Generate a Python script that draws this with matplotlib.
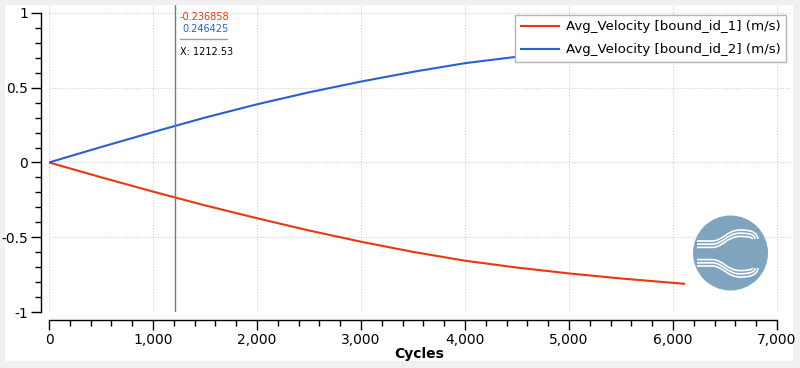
#!/usr/bin/env python3
import matplotlib
matplotlib.use('Agg')
import matplotlib.pyplot as plt
from matplotlib.patches import Circle, Rectangle, PathPatch
from matplotlib.path import Path
from matplotlib.ticker import MultipleLocator, FuncFormatter

# values
cycles = [0, 500, 1000, 1500, 2000, 2500, 3000, 3500, 4000, 4500, 5000, 5500, 6000, 6106]
vel_1 = [0, -0.099, -0.195, -0.287, -0.373, -0.455, -0.530, -0.598, -0.657, -0.703,
         -0.742, -0.776, -0.805, -0.811]
vel_2 = [0, 0.103, 0.203, 0.300, 0.389, 0.469, 0.541, 0.606, 0.664, 0.707,
         0.747, 0.781, 0.811, 0.817]
labels = ["Avg_Velocity [bound_id_1] (m/s)", "Avg_Velocity [bound_id_2] (m/s)"]
cursor_x = 1212.53
cursor_vals = ["-0.236858", "0.246425"]

red = '#e8380d'
blue = '#2a5fd4'

W, H = 800, 368
fig = plt.figure(figsize=(W / 100, H / 100), dpi=100)
fig.patch.set_facecolor('#f0f0f0')
# white panel
fig.patches.append(Rectangle((5 / W, 1 - 361 / H), 788 / W, 356 / H,
                             transform=fig.transFigure, facecolor='white',
                             edgecolor='none', zorder=-10))

ax = fig.add_axes([49 / W, 1 - 312 / H, (790 - 49) / W, (312 - 5) / H])
ax.set_facecolor('none')
ax.plot(cycles, vel_1, color=red, lw=1.5, label=labels[0], zorder=3,
        solid_joinstyle='round')
ax.plot(cycles, vel_2, color=blue, lw=1.5, label=labels[1], zorder=3,
        solid_joinstyle='round')

ax.set_xlim(0, 7125)
ax.set_ylim(-1, 1.053)
for s in ['top', 'right']:
    ax.spines[s].set_visible(False)
ax.spines['left'].set_position(('outward', 6))
ax.spines['bottom'].set_position(('outward', 6))
ax.spines['left'].set_bounds(-1, 1)
ax.spines['bottom'].set_bounds(0, 7000)
ax.spines['left'].set_linewidth(1.0)
ax.spines['bottom'].set_linewidth(1.0)

ax.xaxis.set_major_locator(MultipleLocator(1000))
ax.xaxis.set_minor_locator(MultipleLocator(200))
ax.yaxis.set_major_locator(MultipleLocator(0.5))
ax.yaxis.set_minor_locator(MultipleLocator(0.1))
ax.xaxis.set_major_formatter(FuncFormatter(lambda v, p: f"{int(v):,}"))
ax.yaxis.set_major_formatter(FuncFormatter(lambda v, p: f"{v:g}"))
ax.tick_params(which='major', length=7, width=1.0, labelsize=10, pad=2)
ax.tick_params(which='minor', length=4, width=1.0)
ax.grid(True, which='major', color='#cfcfcf', linestyle=(0, (1, 1.5)), lw=0.8)

ax.set_xlabel("Cycles", fontsize=10, fontweight='bold', labelpad=0)

leg = ax.legend(loc='upper right', fontsize=9.6, fancybox=False, framealpha=1,
                edgecolor='#b4b4b4', borderpad=0.4, handlelength=2.9,
                handletextpad=0.5, labelspacing=0.75, borderaxespad=0,
                bbox_to_anchor=(786 / W, 1 - 15 / H),
                bbox_transform=fig.transFigure)
leg.get_frame().set_linewidth(1.0)
leg.set_zorder(5)

# cursor
ax.axvline(cursor_x, ymin=0, ymax=1, color='#7a7a7a', lw=1.0, zorder=4)
px = lambda x: x / W
py = lambda y: 1 - y / H
fig.text(px(180), py(17), cursor_vals[0], color=red, fontsize=7, va='center')
fig.text(px(182), py(29), cursor_vals[1], color=blue, fontsize=7, va='center')
fig.add_artist(plt.Line2D([px(180), px(227)], [py(39), py(39)],
                          transform=fig.transFigure, color='#a0a0a0', lw=1))
fig.text(px(180), py(52), "X: " + f"{cursor_x:.2f}", color='black', fontsize=7,
         va='center')

# logo
lax = fig.add_axes([690 / W, 1 - 292 / H, 80 / W, 80 / H])
lax.set_xlim(0, 80)
lax.set_ylim(80, 0)
lax.axis('off')
lax.add_patch(Circle((40.5, 41), 37.5, color='#7fa5be', lw=0))
for i in range(3):
    d = 3.2 * i
    verts = [(7, 29 + d), (22, 29 + d),
             (33, 29 + d), (37, 18 + d), (50, 18 + d),
             (61, 18 + d), (67 - 2 * i, 20 + d), (68 - 3 * i, 27)]
    codes = [Path.MOVETO, Path.LINETO] + [Path.CURVE4] * 6
    up = Path(verts, codes)
    lo = Path([(x, 83 - y) for x, y in verts], codes)
    for p in (up, lo):
        lax.add_patch(PathPatch(p, facecolor='none', edgecolor='white', lw=1.2))

fig.savefig('out.png', dpi=100, facecolor=fig.get_facecolor())
